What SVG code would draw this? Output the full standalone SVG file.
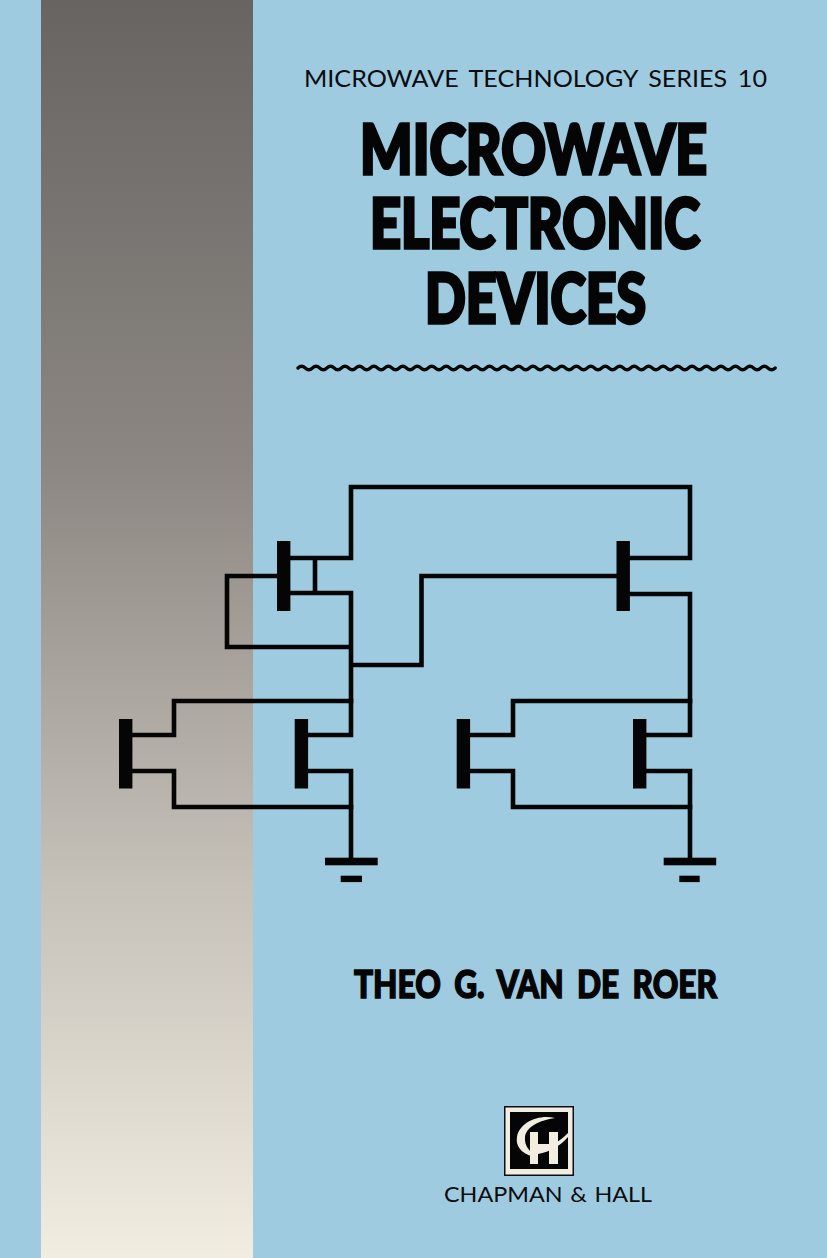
<svg xmlns="http://www.w3.org/2000/svg" width="827" height="1258" viewBox="0 0 827 1258">
<style>
.w{fill:none;stroke:#050505;stroke-width:4.6;stroke-linejoin:miter;stroke-linecap:square}
.b{fill:#050505}
.t{font-family:"Lato","Liberation Sans",Arial,sans-serif;font-weight:900;font-size:68px;fill:#050505;stroke:#050505;stroke-width:3.4;stroke-linejoin:miter}
.s{font-family:"Lato","Liberation Sans",sans-serif;fill:#0a0c10}
</style>
<defs><linearGradient id="g" x1="0" y1="0" x2="0" y2="1">
<stop offset="0" stop-color="#676462"/><stop offset=".37" stop-color="#8c8782"/><stop offset=".7" stop-color="#c5c0b8"/><stop offset="1" stop-color="#f1ede1"/></linearGradient></defs>
<rect width="827" height="1258" fill="#9ecbdf"/>
<rect x="41" width="212" height="1258" fill="url(#g)"/>
<text id="series" class="s" x="304" y="87" font-size="24" word-spacing="4" textLength="463" lengthAdjust="spacingAndGlyphs">MICROWAVE TECHNOLOGY SERIES 10</text>
<g id="title">
<text class="t" x="360" y="173.500" textLength="347" lengthAdjust="spacingAndGlyphs">MICROWAVE</text>
<text class="t" x="370" y="247.500" textLength="330" lengthAdjust="spacingAndGlyphs">ELECTRONIC</text>
<text class="t" x="425" y="322.500" textLength="221" lengthAdjust="spacingAndGlyphs">DEVICES</text>
</g>
<path id="wave" d="M298 368q3.600 -3.400 7.230 0t7.230 0t7.230 0t7.230 0t7.230 0t7.230 0t7.230 0t7.230 0t7.230 0t7.230 0t7.230 0t7.230 0t7.230 0t7.230 0t7.230 0t7.230 0t7.230 0t7.230 0t7.230 0t7.230 0t7.230 0t7.230 0t7.230 0t7.230 0t7.230 0t7.230 0t7.230 0t7.230 0t7.230 0t7.230 0t7.230 0t7.230 0t7.230 0t7.230 0t7.230 0t7.230 0t7.230 0t7.230 0t7.230 0t7.230 0t7.230 0t7.230 0t7.230 0t7.230 0t7.230 0t7.230 0t7.230 0t7.230 0t7.230 0t7.230 0t7.230 0t7.230 0t7.230 0t7.230 0t7.230 0t7.230 0t7.230 0t7.230 0t7.230 0t7.230 0t7.230 0t7.230 0t7.230 0t7.230 0t7.230 0t7.230 0" fill="none" stroke="#050505" stroke-width="3.300" stroke-linecap="round"/>
<g id="connectors">
<path class="w" d="M290 558H351V487H690V558H630M315 558V593M290 593H351V735H308M308 771H351V861M277 576H227V647H351M351 665H421.500V576H617M630 594H690V735H646M646 771H690V861"/>
<path class="w" d="M351 701H174V735H132M132 771H174V807H351"/>
<path class="w" d="M690 701H513V735H470M470 771H513V807H690"/>
</g>
<g id="fet1"><rect class="b" x="277" y="541" width="13.400" height="70"/></g>
<g id="fet2"><rect class="b" x="616.500" y="541" width="13.400" height="70"/></g>
<g id="fet3"><rect class="b" x="119" y="719" width="13.400" height="69.500"/></g>
<g id="fet4"><rect class="b" x="294.700" y="719" width="13.400" height="69.500"/></g>
<g id="fet5"><rect class="b" x="456.700" y="719" width="13.400" height="69.500"/></g>
<g id="fet6"><rect class="b" x="633" y="719" width="13.400" height="69.500"/></g>
<g id="ground1"><rect class="b" x="325" y="857.700" width="52.700" height="7.600"/><rect class="b" x="340.700" y="875.700" width="21.300" height="6.400"/></g>
<g id="ground2"><rect class="b" x="663.700" y="857.700" width="52.500" height="7.600"/><rect class="b" x="679.300" y="875.700" width="20.400" height="6.400"/></g>
<text id="author" x="354" y="998" font-family="Lato,Liberation Sans,Arial,sans-serif" font-weight="900" font-size="38" word-spacing="7" fill="#050505" stroke="#050505" stroke-width="1.500" textLength="363" lengthAdjust="spacingAndGlyphs">THEO G. VAN DE ROER</text>
<g id="logo">
<rect x="504" y="1106" width="70" height="70" fill="#0c0f14"/>
<rect x="505.500" y="1107.500" width="67" height="67" fill="#f1ede1"/>
<rect x="510" y="1112" width="58" height="57" fill="#050505"/>
<path d="M555 1118C538 1114 519 1123 517 1137C515 1149 526 1156 537 1157C530 1152 524 1146 525 1137C526 1127 540 1120 555 1118Z" fill="#f1ede1"/>
<path d="M530 1132H538V1144H549V1132H558V1164H549V1150H538V1164H530Z" fill="#f1ede1"/>
<path d="M538 1150C550 1148 560 1141 568 1133V1137C560 1146 550 1152 538 1154Z" fill="#f1ede1"/>
</g>
<text id="publisher" class="s" x="444" y="1201.500" font-size="21" word-spacing="1.500" textLength="208" lengthAdjust="spacingAndGlyphs">CHAPMAN &amp; HALL</text>
</svg>
